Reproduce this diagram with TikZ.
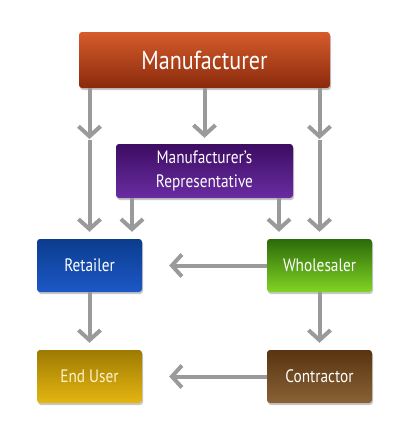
\documentclass[tikz,border=0pt]{standalone}
\usepackage{fontspec}
\setmainfont{PT Sans}[FakeStretch=0.85]
\usetikzlibrary{arrows.meta,shadows}
\definecolor{mfrT}{HTML}{D65C2C}
\definecolor{mfrB}{HTML}{8A2A0C}
\definecolor{repT}{HTML}{3C0D62}
\definecolor{repB}{HTML}{6A2CA2}
\definecolor{retT}{HTML}{0B3C8E}
\definecolor{retB}{HTML}{1C58C6}
\definecolor{wsT}{HTML}{2C6A0A}
\definecolor{wsB}{HTML}{80D423}
\definecolor{euT}{HTML}{9E7A02}
\definecolor{euB}{HTML}{E4B612}
\definecolor{conT}{HTML}{583410}
\definecolor{conB}{HTML}{8A6236}
\definecolor{arrowgray}{HTML}{9A9A9A}
\definecolor{euText}{HTML}{FFF3C8}
\begin{document}
\begin{tikzpicture}[x=1pt,y=-1pt,
  box/.style={rounded corners=3pt, text=white, align=center, inner sep=0pt,
    font=\fontsize{18}{24}\selectfont,
    general shadow={shadow xshift=1pt, shadow yshift=-2pt, fill=black, opacity=0.22}},
  small/.style={box, minimum width=105pt, minimum height=53pt},
  flow/.style={line width=4pt, draw=arrowgray, shorten >=7pt,
    -{Straight Barb[length=10pt,width=22pt,line width=4pt]}}]
\useasboundingbox (0,0) rectangle (408,424);

\node[box, minimum width=251pt, minimum height=56pt, top color=mfrT, bottom color=mfrB,
  font=\fontsize{26}{30}\selectfont] (mfr) at (204.5,60) {Manufacturer};
\node[box, minimum width=177pt, minimum height=54pt, top color=repT, bottom color=repB]
  (rep) at (204.5,171) {Manufacturer’s\\Representative};
\node[small, top color=retT, bottom color=retB] (ret) at (89.5,265.5) {Retailer};
\node[small, top color=wsT, bottom color=wsB] (ws) at (319.5,265.5) {Wholesaler};
\node[small, top color=euT, bottom color=euB, text=euText] (eu) at (89.5,376.5) {End User};
\node[small, top color=conT, bottom color=conB] (con) at (319.5,376.5) {Contractor};

\coordinate (jl) at (89.5,139);
\coordinate (jr) at (319.5,139);
\coordinate (rl) at (132,198);
\coordinate (rr) at (279,198);

\draw[flow, shorten >=0pt] (mfr.south -| jl) -- (jl);
\draw[flow, shorten >=6pt] (mfr.south) -- (rep.north);
\draw[flow, shorten >=0pt] (mfr.south -| jr) -- (jr);
\draw[flow, shorten <=1pt] (jl) -- (ret.north);
\draw[flow, shorten <=1pt] (jr) -- (ws.north);
\draw[flow] (rl) -- (rl |- ret.north);
\draw[flow] (rr) -- (rr |- ws.north);
\draw[flow, shorten >=27pt] (ws.west) -- (ret.east);
\draw[flow] (ret.south) -- (eu.north);
\draw[flow] (ws.south) -- (con.north);
\draw[flow, shorten >=27pt] (con.west) -- (eu.east);
\end{tikzpicture}
\end{document}
